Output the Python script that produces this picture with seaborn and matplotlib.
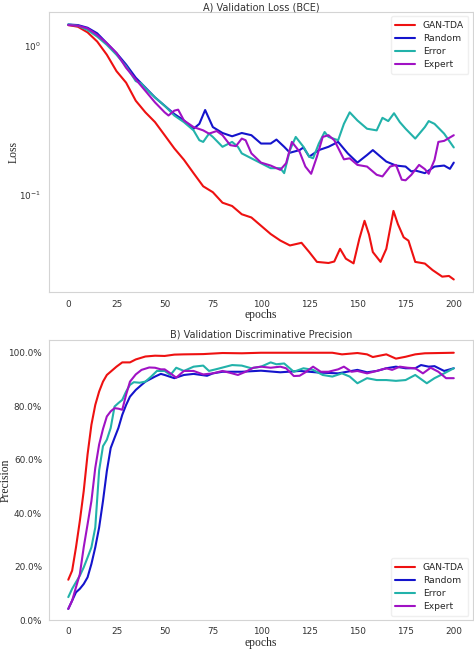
import numpy as np
import pandas as pd
import seaborn as sns
import matplotlib
matplotlib.use("Agg")
import matplotlib.pyplot as plt
from matplotlib.ticker import PercentFormatter, LogLocator, NullLocator

# ---------------- data: A) validation loss ----------------
loss_gan_ep = [0, 5, 10, 15, 20, 25, 30, 35, 40, 45, 50, 55, 60, 65, 70, 75, 80, 85, 90, 95,
               100, 105, 110, 115, 121, 125, 129, 135, 138, 141, 144, 148, 151, 153.7, 156, 158,
               162, 165, 168.7, 171, 174, 176.5, 180, 185, 189, 194, 197.5, 200]
loss_gan = [1.371, 1.336, 1.225, 1.063, 0.867, 0.673, 0.563, 0.426, 0.356, 0.306, 0.250, 0.204,
            0.171, 0.139, 0.1135, 0.1036, 0.0881, 0.0837, 0.0737, 0.0701, 0.0617, 0.0543, 0.0491,
            0.0455, 0.0474, 0.0411, 0.0353, 0.0347, 0.0355, 0.0432, 0.0371, 0.0345, 0.0504, 0.0666,
            0.0540, 0.0411, 0.0353, 0.0432, 0.0776, 0.0633, 0.0516, 0.0490, 0.0353, 0.0344, 0.0311,
            0.0281, 0.0284, 0.0269]

loss_rand_ep = [0, 5, 10, 15, 20, 25, 30, 35, 40, 45, 50, 55, 60, 65, 68, 71, 75, 80, 85, 90, 95,
                100, 105, 108, 112, 115, 120, 122, 125, 130, 135, 140, 145, 150, 155, 158, 162,
                165, 170, 175, 178, 180, 185, 190, 195, 198, 200]
loss_rand = [1.384, 1.371, 1.316, 1.207, 1.036, 0.890, 0.745, 0.608, 0.522, 0.448, 0.394, 0.347,
             0.314, 0.2763, 0.298, 0.369, 0.2835, 0.2587, 0.2459, 0.2587, 0.250, 0.2198, 0.2198,
             0.2337, 0.2090, 0.1907, 0.1986, 0.2069, 0.1794, 0.1986, 0.2090, 0.2254, 0.1888,
             0.1637, 0.1841, 0.1986, 0.1794, 0.1663, 0.1564, 0.1540, 0.1427, 0.1449, 0.1391,
             0.1540, 0.1564, 0.1487, 0.1637]

loss_err_ep = [0, 5, 10, 15, 20, 25, 30, 35, 38, 40, 45, 50, 55, 60, 65, 68, 70, 73, 75, 80, 85,
               88, 90, 95, 100, 105, 110, 112, 115, 118, 122, 125, 127, 130, 133, 135, 140, 143,
               146, 150, 155, 160, 163, 166, 169, 172, 175, 180, 185, 187, 190, 195, 200]
loss_err = [1.384, 1.357, 1.270, 1.147, 1.010, 0.867, 0.726, 0.577, 0.555, 0.516, 0.448, 0.394,
            0.339, 0.306, 0.2694, 0.2313, 0.2254, 0.2561, 0.2434, 0.2090, 0.2254, 0.2090, 0.1888,
            0.1749, 0.1621, 0.1502, 0.1502, 0.1391, 0.1986, 0.2434, 0.2090, 0.1794, 0.1749,
            0.2198, 0.2627, 0.2434, 0.2313, 0.298, 0.356, 0.314, 0.2763, 0.2694, 0.327, 0.311,
            0.351, 0.306, 0.2763, 0.2373, 0.2835, 0.311, 0.298, 0.2561, 0.2069]

loss_exp_ep = [0, 5, 10, 15, 20, 25, 30, 35, 40, 45, 50, 52, 55, 57, 60, 65, 70, 73, 77, 80, 84,
               87, 90, 92, 95, 100, 105, 110, 113, 116, 120, 123, 126, 129, 132, 135, 138, 143,
               146, 150, 155, 160, 163, 167, 170, 173, 175, 178, 182, 185, 187, 190, 192, 195, 200]
loss_exp = [1.371, 1.357, 1.303, 1.176, 1.036, 0.890, 0.708, 0.592, 0.496, 0.415, 0.356, 0.339,
            0.3655, 0.371, 0.314, 0.2835, 0.2694, 0.2561, 0.2667, 0.250, 0.2144, 0.2112, 0.2373,
            0.2313, 0.1888, 0.1637, 0.1564, 0.1464, 0.1621, 0.2254, 0.1936, 0.1540, 0.1377,
            0.1794, 0.2434, 0.250, 0.2313, 0.1722, 0.1749, 0.1580, 0.1540, 0.1356, 0.1322,
            0.1540, 0.1580, 0.1257, 0.1245, 0.1356, 0.1580, 0.148, 0.1377, 0.1705, 0.2254,
            0.229, 0.250]

# ---------------- data: B) validation precision ----------------
prec_gan_ep = [0, 2, 4, 6, 8, 10, 12, 14, 16, 18, 20, 25, 28, 32, 35, 40, 45, 50, 55, 60, 70, 80,
               90, 100, 110, 120, 130, 137, 142, 150, 155, 158, 165, 170, 175, 180, 185, 200]
prec_gan = [0.152, 0.186, 0.273, 0.372, 0.483, 0.620, 0.731, 0.805, 0.855, 0.892, 0.917, 0.948,
            0.964, 0.964, 0.975, 0.986, 0.989, 0.988, 0.993, 0.994, 0.995, 0.999, 0.998, 1.0, 1.0,
            1.0, 1.0, 1.0, 0.994, 0.999, 0.994, 0.984, 0.994, 0.978, 0.985, 0.994, 0.998, 1.0]

prec_rand_ep = [0, 2, 4, 6, 8, 10, 12, 14, 16, 18, 20, 22, 24, 26, 28, 30, 32, 35, 38, 40, 45, 48,
                50, 55, 60, 65, 72, 75, 80, 90, 100, 110, 120, 130, 140, 150, 155, 160, 165, 170,
                175, 180, 183, 187, 190, 195, 200]
prec_rand = [0.043, 0.074, 0.105, 0.118, 0.136, 0.161, 0.211, 0.273, 0.347, 0.446, 0.558, 0.644,
             0.682, 0.719, 0.768, 0.805, 0.836, 0.861, 0.880, 0.892, 0.911, 0.921, 0.917, 0.905,
             0.917, 0.921, 0.914, 0.923, 0.929, 0.929, 0.933, 0.927, 0.932, 0.926, 0.923, 0.936,
             0.927, 0.932, 0.942, 0.948, 0.942, 0.942, 0.954, 0.948, 0.950, 0.932, 0.942]

prec_err_ep = [0, 2, 4, 6, 8, 10, 12, 14, 16, 18, 20, 22, 24, 26, 28, 30, 32, 34, 37, 40, 43, 46,
               50, 53, 56, 60, 65, 70, 73, 77, 85, 90, 95, 100, 105, 108, 112, 117, 122, 127, 132,
               137, 142, 146, 150, 155, 160, 165, 170, 175, 180, 186, 190, 195, 200]
prec_err = [0.087, 0.118, 0.143, 0.167, 0.198, 0.235, 0.273, 0.347, 0.560, 0.651, 0.675, 0.719,
            0.799, 0.812, 0.824, 0.855, 0.880, 0.890, 0.888, 0.892, 0.911, 0.932, 0.932, 0.917,
            0.944, 0.932, 0.948, 0.952, 0.932, 0.939, 0.954, 0.952, 0.942, 0.948, 0.964, 0.957,
            0.960, 0.929, 0.942, 0.936, 0.917, 0.911, 0.923, 0.911, 0.886, 0.905, 0.898, 0.898,
            0.895, 0.898, 0.917, 0.886, 0.905, 0.923, 0.942]

prec_exp_ep = [0, 2, 4, 6, 8, 10, 12, 14, 16, 18, 20, 22, 24, 26, 28, 30, 32, 35, 38, 42, 45, 48,
               50, 53, 56, 60, 65, 70, 75, 80, 85, 88, 92, 96, 100, 105, 110, 113, 117, 120, 123,
               127, 131, 135, 140, 143, 147, 150, 155, 160, 165, 168, 172, 176, 180, 184, 188, 192,
               196, 200]
prec_exp = [0.043, 0.074, 0.124, 0.173, 0.273, 0.359, 0.446, 0.570, 0.657, 0.715, 0.762, 0.781,
            0.793, 0.791, 0.787, 0.843, 0.892, 0.919, 0.936, 0.945, 0.944, 0.938, 0.938, 0.923,
            0.907, 0.932, 0.932, 0.919, 0.923, 0.932, 0.923, 0.917, 0.929, 0.944, 0.948, 0.944,
            0.948, 0.942, 0.913, 0.914, 0.927, 0.948, 0.929, 0.929, 0.938, 0.948, 0.929, 0.932,
            0.923, 0.932, 0.942, 0.936, 0.948, 0.944, 0.942, 0.923, 0.944, 0.929, 0.905, 0.905]

models = ["GAN-TDA", "Random", "Error", "Expert"]
colors = ["#ee1111", "#1414cc", "#22b2aa", "#a012c4"]


def frame(pairs, name):
    parts = []
    for m, (ep, val) in zip(models, pairs):
        parts.append(pd.DataFrame({"epochs": ep, name: val, "model": m}))
    return pd.concat(parts, ignore_index=True)


loss_df = frame([(loss_gan_ep, loss_gan), (loss_rand_ep, loss_rand),
                 (loss_err_ep, loss_err), (loss_exp_ep, loss_exp)], "Loss")
prec_df = frame([(prec_gan_ep, prec_gan), (prec_rand_ep, prec_rand),
                 (prec_err_ep, prec_err), (prec_exp_ep, prec_exp)], "Precision")

sns.set_style("white", {"axes.edgecolor": ".83", "axes.linewidth": 1.0})
plt.rcParams["font.family"] = ["DejaVu Sans"]

fig, (ax1, ax2) = plt.subplots(2, 1, figsize=(4.74, 6.51), dpi=100)
fig.subplots_adjust(left=0.1034, right=0.998, top=0.982, bottom=0.047, hspace=0.17)

palette = dict(zip(models, colors))
label_font = dict(family=["Liberation Serif"], size=8.4)
tick_size = 6.4
xt = [0, 25, 50, 75, 100, 125, 150, 175, 200]

sns.lineplot(data=loss_df, x="epochs", y="Loss", hue="model", palette=palette,
             hue_order=models, estimator=None, sort=True, linewidth=1.5, ax=ax1)
ax1.set_yscale("log")
ax1.yaxis.set_major_locator(LogLocator(base=10))
ax1.yaxis.set_minor_locator(NullLocator())
ax1.set_title("A) Validation Loss (BCE)", fontsize=7, pad=0.8, color=".2")
ax1.set_xlabel("epochs", fontdict=label_font, labelpad=0)
ax1.set_ylabel("Loss", fontdict=label_font)
ax1.yaxis.set_label_coords(-0.068, 0.5)
ax1.set_xticks(xt)
ax1.tick_params(labelsize=tick_size, colors=".2", pad=2)
ax1.legend(loc="upper right", fontsize=6.6, frameon=True, edgecolor=".92",
           handlelength=2.2, borderpad=0.5, labelspacing=0.45)

sns.lineplot(data=prec_df, x="epochs", y="Precision", hue="model", palette=palette,
             hue_order=models, estimator=None, sort=True, linewidth=1.5, ax=ax2)
ax2.yaxis.set_major_formatter(PercentFormatter(xmax=1, decimals=1))
ax2.set_yticks([0.0, 0.2, 0.4, 0.6, 0.8, 1.0])
ax2.set_ylim(0.0, 1.048)
ax2.set_title("B) Validation Discriminative Precision", fontsize=7, pad=1.5, color=".2")
ax2.set_xlabel("epochs", fontdict=label_font)
ax2.xaxis.set_label_coords(0.5, -0.06)
ax2.set_ylabel("Precision", fontdict=label_font)
ax2.yaxis.set_label_coords(-0.087, 0.5)
ax2.set_xticks(xt)
ax2.tick_params(labelsize=tick_size, colors=".2", pad=1.5)
ax2.legend(loc="lower right", fontsize=6.6, frameon=True, edgecolor=".92",
           handlelength=2.2, borderpad=0.5, labelspacing=0.45)

for ax in (ax1, ax2):
    ax.set_xlim(-10, 210)

fig.savefig("out.png", dpi=100)
